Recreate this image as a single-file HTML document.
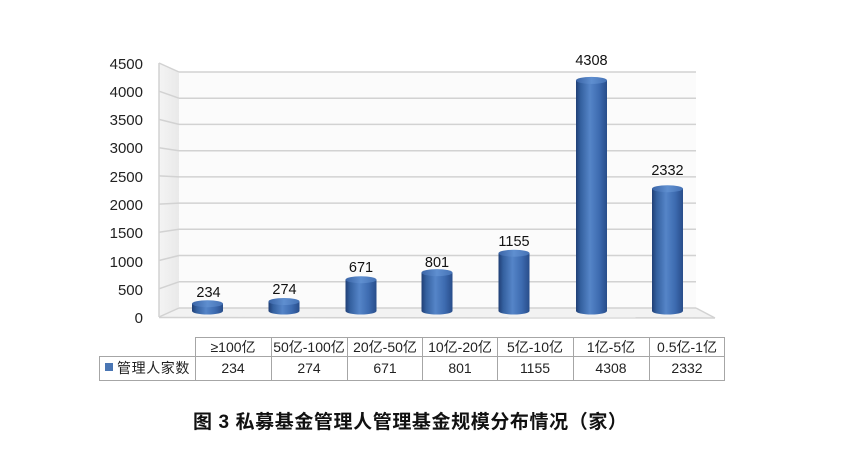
<!DOCTYPE html>
<html><head><meta charset="utf-8"><style>
html,body{margin:0;padding:0;background:#fff;}
svg{display:block;}
</style></head><body>
<svg width="851" height="463" viewBox="0 0 851 463" xmlns="http://www.w3.org/2000/svg" font-family="'Liberation Sans','Noto Sans CJK SC',sans-serif">
<defs>
<linearGradient id="cyl" x1="0" y1="0" x2="1" y2="0">
<stop offset="0" stop-color="#203f75"/>
<stop offset="0.15" stop-color="#34609f"/>
<stop offset="0.45" stop-color="#5585c8"/>
<stop offset="0.75" stop-color="#3d6bb0"/>
<stop offset="1" stop-color="#284d8a"/>
</linearGradient>
<linearGradient id="topg" x1="0" y1="0" x2="1" y2="0">
<stop offset="0" stop-color="#3a64a6"/>
<stop offset="0.5" stop-color="#5f8fd0"/>
<stop offset="1" stop-color="#4572b5"/>
</linearGradient>
<linearGradient id="side" x1="0" y1="0" x2="1" y2="0">
<stop offset="0" stop-color="#f4f4f4"/>
<stop offset="1" stop-color="#e9e9e9"/>
</linearGradient>
</defs>
<!-- side wall -->
<polygon points="159,63 179,72 179,308 159,317" fill="url(#side)"/>
<!-- back wall -->
<rect x="179" y="72" width="517" height="236" fill="#fbfbfb"/>
<!-- floor -->
<polygon points="159,317 179,308 696,308 715,318" fill="#f2f2f2"/>
<g stroke="#d2d2d2" stroke-width="1.5" fill="none">
<line x1="159" y1="63" x2="179" y2="72"/><line x1="179" y1="72" x2="696" y2="72"/>
<line x1="159" y1="91.2" x2="179" y2="98.2"/><line x1="179" y1="98.2" x2="696" y2="98.2"/>
<line x1="159" y1="119.4" x2="179" y2="124.4"/><line x1="179" y1="124.4" x2="696" y2="124.4"/>
<line x1="159" y1="147.7" x2="179" y2="150.7"/><line x1="179" y1="150.7" x2="696" y2="150.7"/>
<line x1="159" y1="175.9" x2="179" y2="176.9"/><line x1="179" y1="176.9" x2="696" y2="176.9"/>
<line x1="159" y1="204.1" x2="179" y2="203.1"/><line x1="179" y1="203.1" x2="696" y2="203.1"/>
<line x1="159" y1="232.3" x2="179" y2="229.3"/><line x1="179" y1="229.3" x2="696" y2="229.3"/>
<line x1="159" y1="260.5" x2="179" y2="255.5"/><line x1="179" y1="255.5" x2="696" y2="255.5"/>
<line x1="159" y1="288.8" x2="179" y2="281.8"/><line x1="179" y1="281.8" x2="696" y2="281.8"/>
<line x1="159" y1="317" x2="179" y2="308"/><line x1="179" y1="308" x2="696" y2="308"/>
<line x1="696" y1="308" x2="715" y2="318"/>
<line x1="159" y1="317.5" x2="715" y2="318"/>
<line x1="159" y1="63" x2="159" y2="317"/>
</g>
<!-- y labels -->
<g font-size="15" fill="#222" text-anchor="end">
<text x="143" y="69">4500</text>
<text x="143" y="97">4000</text>
<text x="143" y="125">3500</text>
<text x="143" y="153">3000</text>
<text x="143" y="182">2500</text>
<text x="143" y="210">2000</text>
<text x="143" y="238">1500</text>
<text x="143" y="267">1000</text>
<text x="143" y="295">500</text>
<text x="143" y="323">0</text>
</g>
<!-- bars -->
<g>
<ellipse cx="207.5" cy="311" rx="15.5" ry="3.5" fill="url(#cyl)"/><rect x="192" y="303.7" width="31" height="7.3" fill="url(#cyl)"/><ellipse cx="207.5" cy="303.7" rx="15.5" ry="3.5" fill="url(#topg)"/>
<ellipse cx="284" cy="311" rx="15.5" ry="3.5" fill="url(#cyl)"/><rect x="268.5" y="301.5" width="31" height="9.5" fill="url(#cyl)"/><ellipse cx="284" cy="301.5" rx="15.5" ry="3.5" fill="url(#topg)"/>
<ellipse cx="361" cy="311" rx="15.5" ry="3.5" fill="url(#cyl)"/><rect x="345.5" y="279.7" width="31" height="31.3" fill="url(#cyl)"/><ellipse cx="361" cy="279.7" rx="15.5" ry="3.5" fill="url(#topg)"/>
<ellipse cx="437" cy="311" rx="15.5" ry="3.5" fill="url(#cyl)"/><rect x="421.5" y="272.6" width="31" height="38.4" fill="url(#cyl)"/><ellipse cx="437" cy="272.6" rx="15.5" ry="3.5" fill="url(#topg)"/>
<ellipse cx="514" cy="311" rx="15.5" ry="3.5" fill="url(#cyl)"/><rect x="498.5" y="253.2" width="31" height="57.8" fill="url(#cyl)"/><ellipse cx="514" cy="253.2" rx="15.5" ry="3.5" fill="url(#topg)"/>
<ellipse cx="591.5" cy="311" rx="15.5" ry="3.5" fill="url(#cyl)"/><rect x="576" y="80.4" width="31" height="230.6" fill="url(#cyl)"/><ellipse cx="591.5" cy="80.4" rx="15.5" ry="3.5" fill="url(#topg)"/>
<ellipse cx="667.5" cy="311" rx="15.5" ry="3.5" fill="url(#cyl)"/><rect x="652" y="188.7" width="31" height="122.3" fill="url(#cyl)"/><ellipse cx="667.5" cy="188.7" rx="15.5" ry="3.5" fill="url(#topg)"/>
</g>
<!-- value labels -->
<g font-size="14.5" fill="#111" text-anchor="middle">
<text x="208.5" y="297">234</text>
<text x="284.5" y="294">274</text>
<text x="361" y="272">671</text>
<text x="437" y="267">801</text>
<text x="514" y="246">1155</text>
<text x="591.5" y="65">4308</text>
<text x="667.5" y="175">2332</text>
</g>
<!-- table -->
<g stroke="#a6a6a6" stroke-width="1" fill="none">
<line x1="195" y1="337.5" x2="724" y2="337.5"/>
<line x1="99" y1="356.5" x2="724" y2="356.5"/>
<line x1="99" y1="380.5" x2="724" y2="380.5"/>
<line x1="99.5" y1="356" x2="99.5" y2="381"/>
<line x1="195.5" y1="337" x2="195.5" y2="381"/>
<line x1="271.5" y1="337" x2="271.5" y2="381"/>
<line x1="347.5" y1="337" x2="347.5" y2="381"/>
<line x1="422.5" y1="337" x2="422.5" y2="381"/>
<line x1="497.5" y1="337" x2="497.5" y2="381"/>
<line x1="573.5" y1="337" x2="573.5" y2="381"/>
<line x1="649.5" y1="337" x2="649.5" y2="381"/>
<line x1="724.5" y1="337" x2="724.5" y2="381"/>
</g>
<rect x="105" y="363" width="8" height="8" fill="#4a76b4"/>
<g font-size="14" fill="#222" text-anchor="middle">
<text x="233" y="352">≥100亿</text>
<text x="309" y="352">50亿-100亿</text>
<text x="385" y="352">20亿-50亿</text>
<text x="460" y="352">10亿-20亿</text>
<text x="535" y="352">5亿-10亿</text>
<text x="611" y="352">1亿-5亿</text>
<text x="687" y="352">0.5亿-1亿</text>
<text x="233" y="373">234</text>
<text x="309" y="373">274</text>
<text x="385" y="373">671</text>
<text x="460" y="373">801</text>
<text x="535" y="373">1155</text>
<text x="611" y="373">4308</text>
<text x="687" y="373">2332</text>
</g>
<text x="117" y="373" font-size="14" fill="#222" letter-spacing="0.6">管理人家数</text>
<!-- title -->
<text x="193" y="428" font-size="19" font-weight="bold" fill="#111" font-family="'Liberation Sans','Noto Sans CJK SC',sans-serif" letter-spacing="0.6">图 3 私募基金管理人管理基金规模分布情况（家）</text>
</svg>
</body></html>
